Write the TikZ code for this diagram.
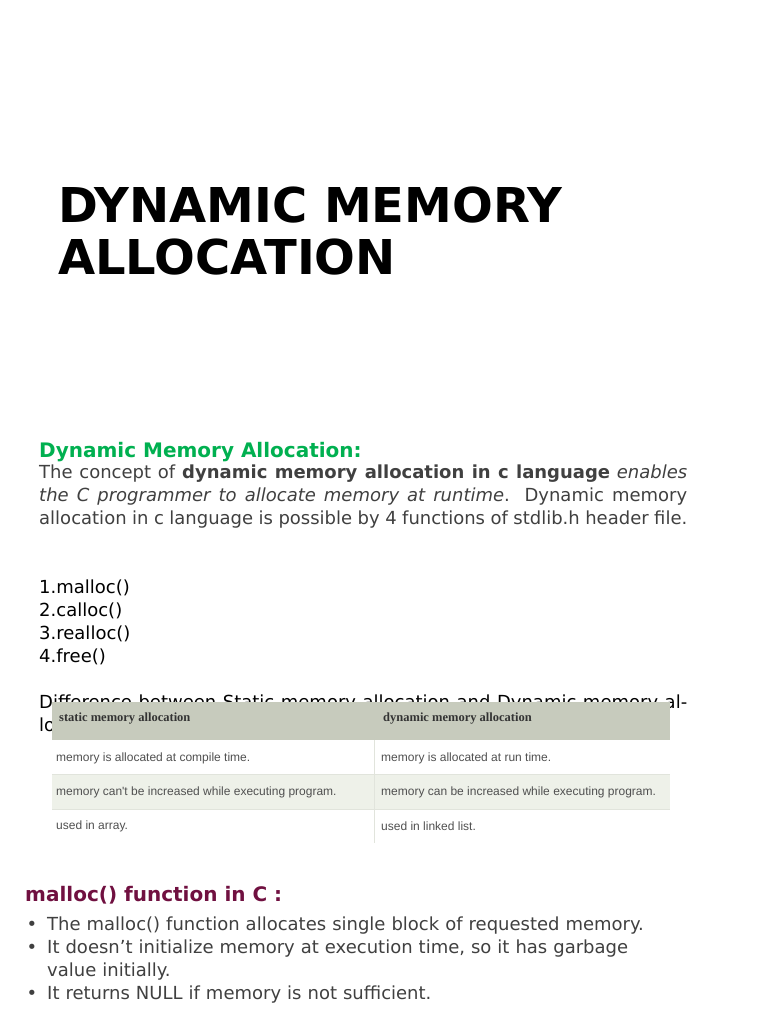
\documentclass[tikz,border=0pt]{standalone}
\usepackage{fontspec}
\setmainfont{DejaVu Sans}
\newfontfamily\tabserif{Liberation Serif}
\newfontfamily\tabsans{Liberation Sans}
\definecolor{greenh}{RGB}{0,176,80}
\definecolor{maroonh}{RGB}{112,16,64}
\definecolor{bodyc}{RGB}{64,64,64}
\definecolor{headc}{RGB}{199,203,189}
\definecolor{rowc}{RGB}{238,241,233}
\definecolor{tabtxt}{RGB}{80,80,80}
\definecolor{lineg}{RGB}{225,228,220}
\tikzset{
  para/.style={anchor=north west, inner sep=0pt, align=justify, text width=648pt, font=\fontsize{18}{23}\selectfont, text=bodyc},
  cell/.style={anchor=west, inner sep=0pt, font=\tabsans\fontsize{12}{14}\selectfont, text=tabtxt},
  hcell/.style={anchor=west, inner sep=0pt, font=\tabserif\bfseries\fontsize{12.5}{14}\selectfont, text=black!80},
}
\begin{document}
\begin{tikzpicture}[x=1pt,y=-1pt]
\useasboundingbox[fill=white] (0,0) rectangle (768,1024);
\node[anchor=west, inner sep=0pt, align=left, font=\bfseries\fontsize{48}{52}\selectfont] (title) at (58,231) {DYNAMIC MEMORY\\ALLOCATION};
\node[anchor=base west, inner sep=0pt, font=\bfseries\fontsize{20}{24}\selectfont, text=greenh] (h1) at (39,457) {Dynamic Memory Allocation:};
\node[para] (p1) at (39,465) {The concept of \textbf{dynamic memory allocation in c language} \textit{enables the C programmer to allocate memory at runtime}. Dynamic memory allocation in c language is possible by 4 functions of stdlib.h header file.};
\node[anchor=north west, inner sep=0pt, align=left, font=\fontsize{18}{23}\selectfont] (list) at (39,580) {1.malloc()\\2.calloc()\\3.realloc()\\4.free()};
\node[para, text=black] (p2) at (39,695) {Difference between Static memory allocation and Dynamic memory allocation:};
% table
\fill[headc] (52,702) rectangle (670,740);
\fill[white] (52,740) rectangle (670,774);
\fill[rowc] (52,774) rectangle (670,809);
\fill[white] (52,809) rectangle (670,843);
\draw[lineg] (52,774) -- (670,774) (52,809) -- (670,809);
\draw[lineg] (374,740) -- (374,843);
\node[hcell] (h11) at (59,719) {static memory allocation};
\node[hcell] (h12) at (383,719) {dynamic memory allocation};
\node[cell] (c11) at (56,758) {memory is allocated at compile time.};
\node[cell] (c12) at (381,758) {memory is allocated at run time.};
\node[cell] (c21) at (56,792) {memory can\symbol{39}t be increased while executing program.};
\node[cell] (c22) at (381,792) {memory can be increased while executing program.};
\node[cell] (c31) at (56,826) {used in array.};
\node[cell] (c32) at (381,826) {used in linked list.};
\node[anchor=base west, inner sep=0pt, font=\bfseries\fontsize{20}{24}\selectfont, text=maroonh] (h2) at (25,901) {malloc() function in C :};
\node[anchor=north west, inner sep=0pt, text width=650pt, font=\fontsize{18}{23}\selectfont, text=bodyc] (bl) at (25,907) {%
\begin{list}{\textbullet}{\leftmargin=22pt\labelwidth=12pt\labelsep=10pt\itemsep=0pt\parsep=0pt\topsep=0pt}
\item The malloc() function allocates single block of requested memory.
\item It doesn\symbol{39}t initialize memory at execution time, so it has garbage value initially.
\item It returns NULL if memory is not sufficient.
\end{list}};
\end{tikzpicture}
\end{document}
